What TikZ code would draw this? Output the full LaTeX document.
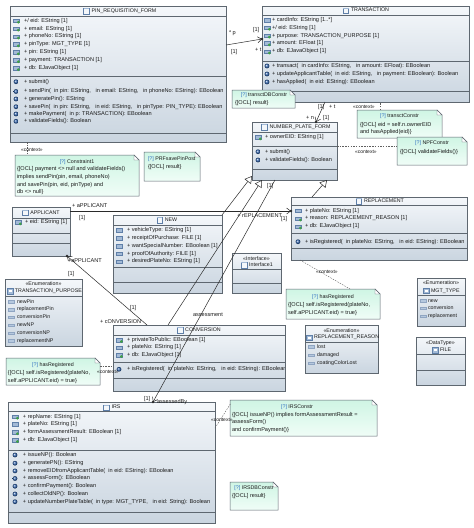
\documentclass[tikz,border=0pt]{standalone}
\usepackage{fontspec}
\setmainfont{Liberation Sans}
\usetikzlibrary{arrows.meta,calc}
\definecolor{bordc}{HTML}{5E6770}
\definecolor{clstop}{HTML}{F4F7FA}
\definecolor{clsbot}{HTML}{CAD5E0}
\definecolor{notetop}{HTML}{CFF5E4}
\definecolor{notebot}{HTML}{F0FDF7}
\definecolor{txtc}{HTML}{1A1A1A}
\definecolor{qblue}{HTML}{2F6FC0}
\definecolor{iconfill}{HTML}{A3BAD6}
\definecolor{iconedge}{HTML}{5F7FA8}
\definecolor{icongreen}{HTML}{3FA046}
\definecolor{opblue}{HTML}{3466AE}
\definecolor{lnc}{HTML}{2A2A2A}
\newcommand{\fs}{\fontsize{5.6}{6.6}\selectfont}
\newcommand{\fst}{\fontsize{5.3}{6.3}\selectfont}
\newcommand{\fsc}{\fontsize{5.0}{6}\selectfont}
\newcommand{\qq}{{\color{qblue}[?]}}
\newcommand{\mkcls}[5]{\node[clsbox, minimum width=#4-#2, minimum height=#5-#3] (#1) at (#2,#3) {};}
\newcommand{\mkdv}[3]{\draw[divline] (#1,#3) -- (#2,#3);}
\newcommand{\mktx}[4]{\node[lbl] (#1) at (#2,#3) {#4};}
\newcommand{\mklt}[4]{\node[lbl, font=\fst] (#1) at (#2,#3) {#4};}
\newcommand{\mkcx}[3]{\node[lbl, font=\fsc] (#1) at (#2,#3) {«context»};}
\newcommand{\mkct}[4]{\node[ttlsty] (#1) at (#2,#3) {#4};}
\newcommand{\mkttl}[4]{\node[ttlsty] (#1) at (#2,#3) {#4};
  \draw[iconedge, fill=clstop, line width=0.35pt] ([xshift=-8pt,yshift=-2.8pt]#1.west) rectangle ([xshift=-2.5pt,yshift=2.8pt]#1.west);
  \fill[iconfill] ([xshift=-8pt,yshift=1.6pt]#1.west) rectangle ([xshift=-2.5pt,yshift=2.8pt]#1.west);}
\newcommand{\mketl}[4]{\node[lbl, font=\fst] (#1) at (#2,#3) {#4};
  \draw[iconedge, fill=iconfill, line width=0.35pt] ([xshift=-7.5pt,yshift=-2.8pt]#1.west) rectangle ([xshift=-2pt,yshift=2.8pt]#1.west);
  \fill[white] ([xshift=-6pt,yshift=-1pt]#1.west) rectangle ([xshift=-3.5pt,yshift=1pt]#1.west);}
\newcommand{\icA}[2]{\draw[iconedge, fill=iconfill, line width=0.3pt] (#1,#2-1.8) rectangle (#1+6,#2+1.8); \fill[icongreen] (#1+5.3,#2+1.5) circle (1.5);}
\newcommand{\icB}[2]{\draw[iconedge, fill=iconfill, line width=0.3pt] (#1,#2-1.8) rectangle (#1+6,#2+1.8);}
\newcommand{\icO}[2]{\shade[ball color=opblue] (#1+3,#2) circle (2.4);}
\newcommand{\icL}[2]{\draw[iconedge!70, fill=iconfill!80, line width=0.3pt] (#1,#2-1.2) rectangle (#1+6,#2+1.2);}
\newcommand{\mknote}[5]{\node[inner sep=0pt, outer sep=0pt, minimum width=#4-#2, minimum height=#5-#3, anchor=north west] (#1) at (#2,#3) {};
  \draw[notesty] (#1.north west) -- ([xshift=-5pt]#1.north east) -- ([yshift=-5pt]#1.north east) -- (#1.south east) -- (#1.south west) -- cycle;
  \draw[bordc, line width=0.4pt, fill=white] ([xshift=-5pt]#1.north east) -- ([xshift=-5pt,yshift=-5pt]#1.north east) -- ([yshift=-5pt]#1.north east) -- cycle;}
\begin{document}
\begin{tikzpicture}[x=1pt,y=-1pt,
 clsbox/.style={draw=bordc, line width=0.6pt, top color=clstop, bottom color=clsbot, inner sep=0pt, outer sep=0pt, anchor=north west},
 divline/.style={draw=bordc, line width=0.5pt},
 lbl/.style={font=\fs, text=txtc, inner sep=0pt, outer sep=0pt, anchor=west, text height=4pt, text depth=1.2pt},
 ttlsty/.style={lbl, font=\fst, anchor=center},
 notesty/.style={draw=bordc, line width=0.5pt, top color=notetop, bottom color=notebot},
 assoc/.style={draw=lnc, line width=0.5pt, -{Straight Barb[length=4pt,width=6pt]}},
 gen/.style={draw=lnc, line width=0.5pt, -{Triangle[open,length=7pt,width=8pt]}},
 ctx/.style={draw=lnc!75, line width=0.4pt, dash pattern=on 1.5pt off 1.2pt}
]
\useasboundingbox (0,0) rectangle (474,528);
\fill[white] (0,0) rectangle (474,528);

% ---------- PIN_REQUISITION_FORM
\mkcls{pin}{10}{6}{226}{142}
\mkdv{10}{226}{16}\mkdv{10}{226}{76}\mkdv{10}{226}{133}
\mkttl{pinT}{124}{11}{PIN\_REQUISITION\_FORM}
\icA{13}{20.7}\mktx{pa1}{24}{20.7}{+/ eid: EString [1]}
\icA{13}{28.6}\mktx{pa2}{24}{28.6}{+ email: EString [1]}
\icA{13}{36.5}\mktx{pa3}{24}{36.5}{+ phoneNo: EString [1]}
\icA{13}{44.4}\mktx{pa4}{24}{44.4}{+ pinType: MGT\_TYPE [1]}
\icA{13}{52.3}\mktx{pa5}{24}{52.3}{+ pin: EString [1]}
\icA{13}{60.2}\mktx{pa6}{24}{60.2}{+ payment: TRANSACTION [1]}
\icA{13}{68.1}\mktx{pa7}{24}{68.1}{+ db: EJavaObject [1]}
\icO{13}{81.7}\mktx{po1}{24}{81.7}{+ submit()}
\icO{13}{91.5}\mktx{po2}{24}{91.5}{+ sendPin(~ in pin: EString,~~ in email: EString,~~ in phoneNo: EString): EBoolean}
\icO{13}{99}\mktx{po3}{24}{99}{+ generatePin(): EString}
\icO{13}{106.7}\mktx{po4}{24}{106.7}{+ savePin(~ in pin: EString,~~ in eid: EString,~~ in pinType: PIN\_TYPE): EBoolean}
\icO{13}{114}\mktx{po5}{24}{114}{+ makePayment(~ in p: TRANSACTION): EBoolean}
\icO{13}{121.3}\mktx{po6}{24}{121.3}{+ validateFields(): Boolean}

% ---------- TRANSACTION
\mkcls{trans}{262}{6}{469}{102}
\mkdv{262}{469}{15.5}\mkdv{262}{469}{61}\mkdv{262}{469}{91}
\mkttl{trT}{370}{10.5}{TRANSACTION}
\icB{264}{20}\mktx{ta1}{272}{20}{+ cardInfo: EString [1..*]}
\icA{264}{27.7}\mktx{ta2}{272}{27.7}{+/ eid: EString [1]}
\icA{264}{35.6}\mktx{ta3}{272}{35.6}{+ purpose: TRANSACTION\_PURPOSE [1]}
\icA{264}{43.4}\mktx{ta4}{272}{43.4}{+ amount: EFloat [1]}
\icA{264}{51.5}\mktx{ta5}{272}{51.5}{+ db: EJavaObject [1]}
\icO{264}{66}\mktx{to1}{272}{66}{+ transact(~ in cardInfo: EString,~~ in amount: EFloat): EBoolean}
\icO{264}{74}\mktx{to2}{272}{74}{+ updateApplicantTable(~ in eid: EString,~~ in payment: EBoolean): Boolean}
\icO{264}{82}\mktx{to3}{272}{82}{+ hasApplied(~ in eid: EString): EBoolean}

% ---------- NUMBER_PLATE_FORM
\mkcls{npf}{252}{122}{337}{180}
\mkdv{252}{337}{132}\mkdv{252}{337}{146.5}\mkdv{252}{337}{169}
\mkttl{npT}{300}{127}{NUMBER\_PLATE\_FORM}
\icA{255}{137.3}\mktx{na1}{265}{137.3}{+ ownerEID: EString [1]}
\icO{255}{151.7}\mktx{no1}{265}{151.7}{+ submit()}
\icO{255}{160}\mktx{no2}{265}{160}{+ validateFields(): Boolean}

% ---------- APPLICANT
\mkcls{app}{12}{207}{70}{256}
\mkdv{12}{70}{218}\mkdv{12}{70}{233}\mkdv{12}{70}{243}
\mkttl{apT}{45}{212.7}{APPLICANT}
\icA{15}{222.3}\mktx{aa1}{25}{222.3}{+ eid: EString [1]}

% ---------- NEW
\mkcls{new}{113}{215}{222}{293}
\mkdv{113}{222}{225}\mkdv{113}{222}{267}\mkdv{113}{222}{282}
\mkttl{nwT}{171}{220}{NEW}
\icB{116}{230}\mktx{wa1}{127}{230}{+ vehicleType: EString [1]}
\icB{116}{238.2}\mktx{wa2}{127}{238.2}{+ receiptOfPurchase: FILE [1]}
\icB{116}{246}\mktx{wa3}{127}{246}{+ wantSpecialNumber: EBoolean [1]}
\icB{116}{253.6}\mktx{wa4}{127}{253.6}{+ proofOfAuthority: FILE [1]}
\icB{116}{261.5}\mktx{wa5}{127}{261.5}{+ desiredPlateNo: EString [1]}

% ---------- REPLACEMENT
\mkcls{repl}{291}{197}{467}{260}
\mkdv{291}{467}{205}\mkdv{291}{467}{233}\mkdv{291}{467}{248.5}
\mkttl{rpT}{384}{201}{REPLACEMENT}
\icB{295}{210.7}\mktx{ra1}{305}{210.7}{+ plateNo: EString [1]}
\icA{295}{218.5}\mktx{ra2}{305}{218.5}{+ reason: REPLACEMENT\_REASON [1]}
\icA{295}{226.5}\mktx{ra3}{305}{226.5}{+ db: EJavaObject [1]}
\icO{295}{241.7}\mktx{ro1}{305}{241.7}{+ isRegistered(~ in plateNo: EString,~~ in eid: EString): EBoolean}

% ---------- Interface1
\mkcls{intf}{232}{253}{281}{293}
\mkdv{232}{281}{269}\mkdv{232}{281}{283}
\mkct{ifS}{256.5}{258.8}{«Interface»}
\mkttl{ifT}{261}{265}{Interface1}

% ---------- TRANSACTION_PURPOSE
\mkcls{tp}{5}{279}{82}{346}
\mkdv{5}{82}{296.5}
\mkct{tpS}{43.5}{284}{«Enumeration»}
\begin{scope}
\clip (5,279) rectangle (82,346);
\mketl{tpT}{15}{291.3}{TRANSACTION\_PURPOSE}
\end{scope}
\icL{8}{301.7}\mklt{tl1}{17}{301.7}{newPin}
\icL{8}{309.5}\mklt{tl2}{17}{309.5}{replacementPin}
\icL{8}{317.4}\mklt{tl3}{17}{317.4}{conversionPin}
\icL{8}{325.3}\mklt{tl4}{17}{325.3}{newNP}
\icL{8}{333.1}\mklt{tl5}{17}{333.1}{conversionNP}
\icL{8}{340.8}\mklt{tl6}{17}{340.8}{replacementNP}

% ---------- MGT_TYPE
\mkcls{mgt}{417}{278}{465}{326}
\mkdv{417}{465}{295.5}
\mkct{mgS}{441}{283.5}{«Enumeration»}
\mketl{mgT}{431}{290.7}{MGT\_TYPE}
\icL{420}{300.7}\mklt{ml1}{428}{300.7}{new}
\icL{420}{308.4}\mklt{ml2}{428}{308.4}{conversion}
\icL{420}{316.1}\mklt{ml3}{428}{316.1}{replacement}

% ---------- REPLACEMENT_REASON
\mkcls{rr}{305}{325}{378}{373}
\mkdv{305}{378}{342}
\mkct{rrS}{341.5}{331}{«Enumeration»}
\begin{scope}
\clip (305,325) rectangle (378,373);
\mketl{rrT}{314}{337.5}{REPLACEMENT\_REASON}
\end{scope}
\icL{308}{346.7}\mklt{rl1}{317}{346.7}{lost}
\icL{308}{355}\mklt{rl2}{317}{355}{damaged}
\icL{308}{363}\mklt{rl3}{317}{363}{coatingColorLost}

% ---------- FILE
\mkcls{file}{416}{337}{465}{385}
\mkdv{416}{465}{354.5}\mkdv{416}{465}{370}
\mkct{flS}{440.5}{342.7}{«DataType»}
\mketl{flT}{440}{350}{FILE}

% ---------- CONVERSION
\mkcls{conv}{113}{325}{285}{391}
\mkdv{113}{285}{335}\mkdv{113}{285}{362.5}\mkdv{113}{285}{378}
\mkttl{cvT}{203}{330}{CONVERSION}
\icA{116}{340}\mktx{ca1}{127}{340}{+ privateToPublic: EBoolean [1]}
\icB{116}{347.5}\mktx{ca2}{127}{347.5}{+ plateNo: EString [1]}
\icA{116}{355}\mktx{ca3}{127}{355}{+ db: EJavaObject [1]}
\begin{scope}
\clip (113,362) rectangle (284.5,378);
\icO{116}{369.3}\mktx{co1}{127}{369.3}{+ isRegistered(~ in plateNo: EString,~~ in eid: EString): EBoolean}
\end{scope}

% ---------- IRS
\mkcls{irs}{8}{402}{215}{523}
\mkdv{8}{215}{411}\mkdv{8}{215}{450}\mkdv{8}{215}{512}
\mkttl{irT}{116}{407.5}{IRS}
\icA{12}{416.7}\mktx{ia1}{23}{416.7}{+ repName: EString [1]}
\icB{12}{424.4}\mktx{ia2}{23}{424.4}{+ plateNo: EString [1]}
\icA{12}{432.2}\mktx{ia3}{23}{432.2}{+ formAssessmentResult: EBoolean [1]}
\icA{12}{440}\mktx{ia4}{23}{440}{+ db: EJavaObject [1]}
\icO{12}{455}\mktx{io1}{23}{455}{+ issueNP(): Boolean}
\icO{12}{463.2}\mktx{io2}{23}{463.2}{+ generatePN(): EString}
\icO{12}{470.9}\mktx{io3}{23}{470.9}{+ removeEIDfromApplicantTable(~ in eid: EString): EBoolean}
\icO{12}{478.5}\mktx{io4}{23}{478.5}{+ assessForm(): EBoolean}
\icO{12}{486.2}\mktx{io5}{23}{486.2}{+ confirmPayment(): Boolean}
\icO{12}{494}\mktx{io6}{23}{494}{+ collectOldNP(): Boolean}
\icO{12}{501.7}\mktx{io7}{23}{501.7}{+ updateNumberPlateTable(~ in type: MGT\_TYPE,~~ in eid: String): Boolean}

% ---------- Notes
\mknote{nC1}{15}{155}{139}{196}
\mkct{c1t}{77}{162}{\qq\ Constraint1}
\mktx{c1b1}{17}{169.5}{\{[OCL] payment <> null and validateFields()}
\mktx{c1b2}{17}{177.1}{implies sendPin(pin, email, phoneNo)}
\mktx{c1b3}{17}{184.7}{and savePin(pin, eid, pinType) and}
\mktx{c1b4}{17}{192.2}{db <> null\}}

\mknote{nPRF}{144}{152}{200}{181}
\node[lbl, font=\fst] (prt) at (148,159) {\qq\ PRFsavePinPost};
\mktx{prb}{148}{167}{\{[OCL] result\}}

\mknote{nTDB}{232}{90}{295}{108}
\mkct{tdt}{264}{95.3}{\qq\ transctDBConstr}
\mktx{tdb}{235}{103}{\{[OCL] result\}}

\mknote{nTC}{357}{110}{442}{138}
\mkct{tct}{399.5}{116.3}{\qq\ transctConstr}
\mktx{tcb1}{360}{125}{\{[OCL] eid = self.n.ownerEID}
\mktx{tcb2}{360}{132.3}{and hasApplied(eid)\}}

\mknote{nNPF}{397}{137}{467}{165}
\mkct{nct}{432}{143.3}{\qq\ NPFConstr}
\mktx{ncb}{400}{152.3}{\{[OCL] validateFields()\}}

\mknote{nHR}{286}{289}{380}{319}
\mkct{hrt}{333}{297.3}{\qq\ hasRegistered}
\mktx{hrb1}{288}{305}{\{[OCL] self.isRegistered(plateNo,}
\mktx{hrb2}{288}{312.7}{self.aPPLICANT.eid) = true\}}

\mknote{nHL}{6}{358}{100}{385}
\mkct{hlt}{53}{365}{\qq\ hasRegistered}
\mktx{hlb1}{8}{373.3}{\{[OCL] self.isRegistered(plateNo,}
\mktx{hlb2}{8}{381}{self.aPPLICANT.eid) = true\}}

\mknote{nIC}{230}{400}{377}{436}
\mkct{ict}{297}{407.3}{\qq\ IRSConstr}
\mktx{icb1}{232}{415}{\{[OCL] issueNP() implies formAssessmentResult =}
\mktx{icb2}{232}{422.3}{assessForm()}
\mktx{icb3}{232}{429.7}{and confirmPayment()\}}

\mknote{nID}{230}{482}{278}{510}
\mkct{idt}{254}{488.3}{\qq\ IRSDBConstr}
\mktx{idb}{232}{496}{\{[OCL] result\}}

% ---------- connector end points
\coordinate (qP1) at ($(pin.north east)+(0,39)$);
\coordinate (qT1) at ($(trans.north west)+(0,33)$);
\coordinate (qT2) at ($(trans.south west)+(63,0)$);
\coordinate (qN1) at ($(npf.north west)+(64,0)$);
\coordinate (qA1) at ($(app.north east)+(0,4)$);
\coordinate (qR1) at ($(repl.north west)+(0,14)$);
\coordinate (qC1) at ($(conv.north west)+(34,0)$);
\coordinate (qA2) at ($(app.south east)+(-3,0)$);
\coordinate (qN2) at ($(npf.south west)+(23,0)$);
\coordinate (qI1) at ($(irs.north west)+(145,0)$);
\coordinate (qW1) at (new.north east);
\coordinate (qN3) at ($(npf.south west)+(0,-4)$);
\coordinate (qC2) at ($(conv.north west)+(55,0)$);
\coordinate (qN4) at ($(npf.south west)+(10,0)$);
\coordinate (qR2) at ($(repl.north west)+(21,0)$);
\coordinate (qN5) at ($(npf.south west)+(75,0)$);

% associations
\draw[assoc] (qP1) -- (qT1); \fill[lnc] (qT1) circle (1.3);
\draw[assoc] (qT2) -- (qN1); \fill[lnc] (qN1) circle (1.3);
\draw[assoc] (qA1) -- (qR1); \fill[lnc] (qR1) circle (1.3);
\draw[assoc] (qC1) -- (qA2); \fill[lnc] (qA2) circle (1.3);
\draw[assoc] (qN2) -- (qI1); \fill[lnc] (qI1) circle (1.3);
% generalizations
\draw[gen] (qW1) -- (qN3);
\draw[gen] (qC2) -- (qN4);
\draw[gen] (qR2) -- (qN5);

% context links
\draw[ctx] ($(pin.south west)+(17,0)$) -- ($(nC1.north west)+(12,0)$);
\draw[ctx] ($(nTC.north west)+(23,0)$) -- ($(trans.south west)+(118,0)$);
\draw[ctx] ($(npf.north east)+(0,24)$) -- ($(nNPF.north west)+(0,9)$);
\draw[ctx] ($(repl.south west)+(9,0)$) -- ($(nHR.north west)+(64,0)$);
\draw[ctx] ($(nHL.north east)+(0,8)$) -- ($(conv.north west)+(0,41)$);
\draw[ctx] ($(irs.north east)+(0,26)$) -- ($(nIC.north west)+(1,3)$);

% ---------- labels
\mkcx{k1}{21}{150}
\mkcx{k2}{353}{107}
\mkcx{k3}{355}{152}
\mkcx{k4}{316}{271.7}
\mkcx{k5}{97}{372.3}
\mkcx{k6}{211}{420}

\mktx{m1}{229}{33}{* p}
\mktx{m2}{231}{52}{[1]}
\mktx{m3}{253}{30}{[1]}
\mktx{m4}{255}{50}{+ t}
\mktx{m5}{318}{107}{[1]}
\mktx{m6}{329}{107}{+ t}
\mktx{m7}{306}{118.5}{+ n}
\mktx{m8}{323}{118.5}{[1]}
\mktx{m9}{72}{206}{+ aPPLICANT}
\mktx{m10}{79}{218}{[1]}
\node[lbl, anchor=east] (m11) at (282,216.5) {+ rEPLACEMENT};
\mktx{m12}{281}{219.5}{[1]}
\mktx{m13}{68}{261}{+aPPLICANT}
\mktx{m14}{68}{274}{[1]}
\mktx{m15}{130}{308}{[1]}
\mktx{m16}{100}{322}{+ cONVERSION}
\mktx{m17}{193}{315}{assessment}
\mktx{m18}{144}{399.5}{[1]}
\mktx{m19}{157}{402}{assessedBy}
\mktx{m20}{267}{186}{[1]}
\end{tikzpicture}
\end{document}
